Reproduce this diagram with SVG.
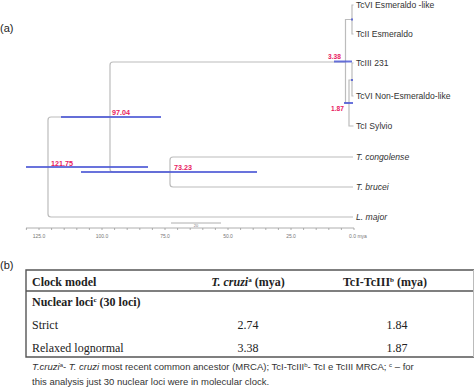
<svg xmlns="http://www.w3.org/2000/svg" width="474" height="387" viewBox="0 0 474 387">
<style>
.br{fill:none;stroke:#bcbcbc;stroke-width:1.2}
.hpd{stroke:#4f5ad6;stroke-width:2;stroke-opacity:0.85}
.ax{stroke:#9a9a9a;stroke-width:0.8;fill:none}
.tip{font-family:"Liberation Sans",Arial,sans-serif;font-size:8.6px;fill:#333}
.it{font-style:italic}
.age{font-family:"Liberation Sans",Arial,sans-serif;font-size:7.2px;font-weight:bold;fill:#e8205f}
.tl{font-family:"Liberation Sans",Arial,sans-serif;font-size:5px;fill:#777;text-anchor:middle}
.pl{font-family:"Liberation Sans",Arial,sans-serif;font-size:11px;fill:#222}
.tb{font-family:"Liberation Serif","Times New Roman",serif;font-size:12px;fill:#222}
.b{font-weight:bold}
.fn{font-family:"Liberation Sans",Arial,sans-serif;font-size:9.5px;fill:#333}
</style>
<text class="pl" x="0" y="32">(a)</text>

<g id="connectors">
<path class="br" d="M110,117 H51 Q48,117 48,120 V214 Q48,217 51,217 H353"/>
<path class="br" d="M345.5,62 H113 Q110,62 110,65 V169 Q110,172 113,172 H170"/>
<path class="br" d="M353,157 H173 Q170,157 170,160 V184 Q170,187 173,187 H353"/>
<path class="br" d="M352,19.5 H345.5 V103 H349"/>
<path class="br" d="M353.5,5 H352 V34 H353.5"/>
<path class="br" d="M353.5,63 H352 V96 H353.5"/>
<path class="br" d="M352,80 H349 V126 H353.5"/>
</g>

<g id="hpd-bars">
<line class="hpd" x1="26" y1="167" x2="148" y2="167"/>
<line class="hpd" x1="61" y1="117" x2="161" y2="117"/>
<line class="hpd" x1="81" y1="172" x2="257" y2="172"/>
<line class="hpd" x1="334" y1="61.5" x2="352" y2="61.5"/>
<line class="hpd" x1="344" y1="103" x2="353" y2="103"/>
<line class="hpd" x1="351" y1="19.5" x2="353" y2="19.5"/>
<line class="hpd" x1="351" y1="80" x2="353" y2="80"/>
</g>

<g id="node-121">
<text class="age" x="51" y="166">121.75</text>
</g>
<g id="node-97">
<text class="age" x="112" y="115">97.04</text>
</g>
<g id="node-73">
<text class="age" x="174" y="170">73.23</text>
</g>
<g id="node-338">
<text class="age" x="328" y="59" style="font-size:6.6px">3.38</text>
</g>
<g id="node-187">
<text class="age" x="331" y="111" style="font-size:6.6px">1.87</text>
</g>

<g id="tip-tcvi-esm"><text class="tip" x="356" y="8">TcVI Esmeraldo -like</text></g>
<g id="tip-tcii"><text class="tip" x="356" y="37">TcII Esmeraldo</text></g>
<g id="tip-tciii"><text class="tip" x="356" y="66">TcIII 231</text></g>
<g id="tip-tcvi-non"><text class="tip" x="356" y="99">TcVI Non-Esmeraldo-like</text></g>
<g id="tip-tci"><text class="tip" x="356" y="129">TcI Sylvio</text></g>
<g id="tip-tcong"><text class="tip it" x="356" y="160">T. congolense</text></g>
<g id="tip-tbru"><text class="tip it" x="356" y="190">T. brucei</text></g>
<g id="tip-lmaj"><text class="tip it" x="356" y="220">L. major</text></g>

<g id="axis">
<line class="ax" x1="26" y1="228" x2="354" y2="228"/>
<path class="ax" d="M26.4,228v2 M39,228v2 M51.6,228v2 M64.2,228v2 M76.8,228v2 M89.4,228v2 M102,228v2 M114.6,228v2 M127.2,228v2 M139.8,228v2 M152.4,228v2 M165,228v2 M177.6,228v2 M190.2,228v2 M202.8,228v2 M215.4,228v2 M228,228v2 M240.6,228v2 M253.2,228v2 M265.8,228v2 M278.4,228v2 M291,228v2 M303.6,228v2 M316.2,228v2 M328.8,228v2 M341.4,228v2 M354,228v2"/>
<text class="tl" x="39" y="237.5">125.0</text>
<text class="tl" x="102" y="237.5">100.0</text>
<text class="tl" x="165" y="237.5">75.0</text>
<text class="tl" x="228" y="237.5">50.0</text>
<text class="tl" x="291" y="237.5">25.0</text>
<text class="tl" x="358" y="237.5">0.0 mya</text>
<line class="ax" x1="171" y1="223" x2="221" y2="223"/>
<text class="tl" x="196" y="227" style="font-size:4px">20</text>
</g>

<text class="pl" x="0" y="269">(b)</text>

<g id="table">
<path d="M474,270 H26 V357 H474" fill="none" stroke="#555" stroke-width="1.4"/>
<line x1="26" y1="291" x2="474" y2="291" stroke="#555" stroke-width="1.4"/>
<line x1="473.5" y1="270" x2="473.5" y2="357" stroke="#bbb" stroke-width="1"/>
<text class="tb b" x="32" y="286">Clock model</text>
<text class="tb b" x="248" y="286" text-anchor="middle"><tspan font-style="italic">T. cruzi</tspan><tspan font-size="7" dy="-4">a</tspan><tspan dy="4"> (mya)</tspan></text>
<text class="tb b" x="385" y="286" text-anchor="middle">TcI-TcIII<tspan font-size="7" dy="-4">b</tspan><tspan dy="4"> (mya)</tspan></text>
<text class="tb b" x="32" y="306">Nuclear loci<tspan font-size="7" dy="-4">c</tspan><tspan dy="4"> (30 loci)</tspan></text>
<text class="tb" x="32" y="329">Strict</text>
<text class="tb" x="248" y="329" text-anchor="middle">2.74</text>
<text class="tb" x="397" y="329" text-anchor="middle">1.84</text>
<text class="tb" x="32" y="352">Relaxed lognormal</text>
<text class="tb" x="248" y="352" text-anchor="middle">3.38</text>
<text class="tb" x="397" y="352" text-anchor="middle">1.87</text>
</g>

<g id="footnote">
<text class="fn" x="32" y="370"><tspan font-style="italic">T.cruzi</tspan><tspan font-size="6" dy="-3">a</tspan><tspan dy="3">- </tspan><tspan font-style="italic">T. cruzi</tspan> most recent common ancestor (MRCA); TcI-TcIII<tspan font-size="6" dy="-3">b</tspan><tspan dy="3">- TcI e TcIII MRCA; </tspan><tspan font-size="6" dy="-3">c</tspan><tspan dy="3"> – for</tspan></text>
<text class="fn" x="32" y="385">this analysis just 30 nuclear loci were in molecular clock.</text>
</g>
</svg>
